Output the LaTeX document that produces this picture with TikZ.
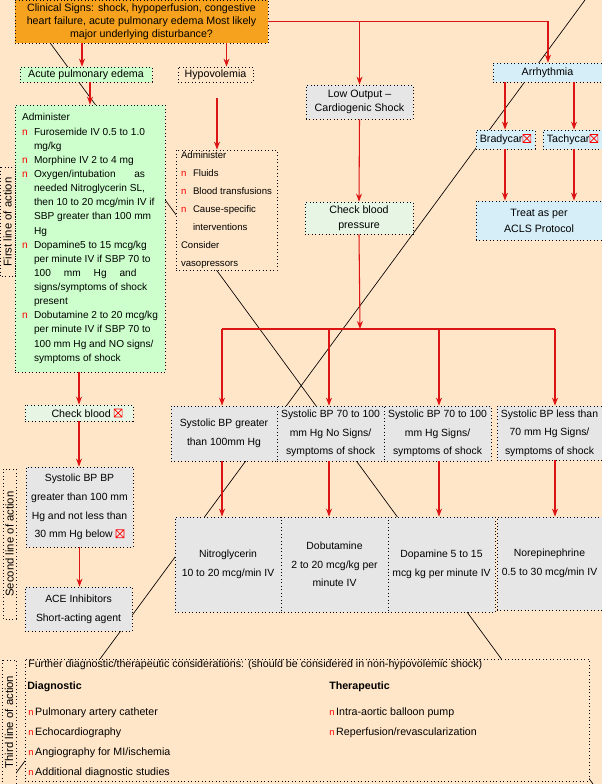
\documentclass[tikz,border=0pt]{standalone}
\usepackage{fontspec}
\setmainfont{Liberation Sans}
\usetikzlibrary{arrows.meta}
\definecolor{bgc}{RGB}{255,230,200}
\definecolor{orng}{RGB}{247,162,30}
\definecolor{lgreen}{RGB}{204,255,204}
\definecolor{pgreen}{RGB}{230,245,228}
\definecolor{lgrey}{RGB}{230,230,230}
\definecolor{lblue}{RGB}{214,238,248}
\definecolor{rline}{RGB}{220,20,20}
\newcommand\bul{\makebox[9pt][l]{\textcolor{red}{n}}}
\newcommand\ind{\hspace*{9pt}}
\newcommand\brokenicon{\tikz[baseline=0pt,x=1pt,y=1pt]{\draw[red,line width=0.5pt] (0,0) rectangle (6,6) (0,0)--(6,6) (0,6)--(6,0);}}
\newcommand\bx[7]{\node[box,#6,minimum width={(#4-#2)*0.75pt},minimum height={(#5-#3)*0.75pt}] (#1) at ({(#2+#4)/2},{(#3+#5)/2}) {#7};}
\begin{document}
\begin{tikzpicture}[x=0.75pt,y=-0.75pt,
  box/.style={draw,dotted,line width=0.6pt,inner sep=1pt,align=center,font=\fontsize{8}{10}\selectfont},
  arr/.style={draw=rline,line width=0.8pt,-{Stealth[length=6pt,width=4.5pt]}},
  rl/.style={draw=rline,line width=0.8pt},
  bl/.style={draw=black,line width=0.5pt}]
\fill[bgc] (0,0) rectangle (602,784);
\useasboundingbox (0,0) rectangle (602,784);
% stray black lines
\coordinate (la1) at (585,0); \coordinate (la2) at (8,784);
\coordinate (lb1) at (48,40); \coordinate (lb2) at (593,784);
\draw[bl] (la1) -- (la2);
\draw[bl] (lb1) -- (lb2);
% boxes
\bx{orange}{15}{0}{268}{43}{fill=orng,inner sep=0pt,font=\fontsize{8}{9.6}\selectfont}{Clinical Signs: shock, hypoperfusion, congestive\\heart failure, acute pulmonary edema Most likely\\major underlying disturbance?}
\bx{acute}{20}{67}{152}{82}{fill=lgreen}{Acute pulmonary edema}
\bx{hypo}{178}{67}{253}{82}{fill=bgc}{Hypovolemia}
\bx{green}{15}{105}{165}{372}{fill=lgreen,align=left,font=\fontsize{7.6}{10.6}\selectfont}{Administer\\
\bul Furosemide IV 0.5 to 1.0\\ \ind mg/kg\\
\bul Morphine IV 2 to 4 mg\\
\bul Oxygen/intubation \hfill as\\ \ind needed Nitroglycerin SL,\\ \ind then 10 to 20 mcg/min IV if\\ \ind SBP greater than 100 mm\\ \ind Hg\\
\bul Dopamine5 to 15 mcg/kg\\ \ind per minute IV if SBP 70 to\\ \ind 100 \quad mm \quad Hg \quad and\\ \ind signs/symptoms of shock\\ \ind present\\
\bul Dobutamine 2 to 20 mcg/kg\\ \ind per minute IV if SBP 70 to\\ \ind 100 mm Hg and NO signs/\\ \ind symptoms of shock}
\bx{hadm}{176}{150}{277}{270}{fill=bgc,align=left,font=\fontsize{7.2}{13.5}\selectfont}{Administer\\ \bul Fluids\\ \bul Blood transfusions\\ \bul Cause-specific\\ \ind interventions\\ Consider\\ vasopressors}
\node[box,rotate=90,fill=bgc,minimum width={109*0.75pt},minimum height={15*0.75pt},font=\fontsize{8.5}{10}\selectfont] (first) at (7.5,222) {First line of action};
\bx{low}{306}{85}{413}{119}{fill=lgrey,font=\fontsize{8}{11}\selectfont}{Low Output --\\Cardiogenic Shock}
\bx{cbp}{305}{202}{413}{234}{fill=pgreen,font=\fontsize{8}{11}\selectfont}{Check blood\\pressure}
\bx{arrh}{493}{63}{602}{82}{fill=lblue}{Arrhythmia}
\bx{brady}{476}{130}{535}{149}{fill=lblue}{Bradycar\brokenicon}
\bx{tachy}{543}{130}{602}{149}{fill=lblue}{Tachycar\brokenicon}
\bx{acls}{476}{201}{602}{240}{fill=lblue,font=\fontsize{8}{12}\selectfont}{Treat as per\\ACLS Protocol}
\bx{s1}{171}{406}{277}{461}{fill=lgrey,font=\fontsize{7.8}{14}\selectfont}{Systolic BP greater\\than 100mm Hg}
\bx{s2}{277}{406}{384}{461}{fill=lgrey,font=\fontsize{7.8}{14}\selectfont}{Systolic BP 70 to 100\\mm Hg No Signs/\\symptoms of shock}
\bx{s3}{384}{406}{491}{461}{fill=lgrey,font=\fontsize{7.8}{14}\selectfont}{Systolic BP 70 to 100\\mm Hg Signs/\\symptoms of shock}
\bx{s4}{497}{406}{602}{460}{fill=lgrey,font=\fontsize{7.8}{14}\selectfont}{Systolic BP less than\\70 mm Hg Signs/\\symptoms of shock}
\bx{d1}{175}{517}{281}{612}{fill=lgrey,font=\fontsize{7.8}{14}\selectfont}{Nitroglycerin\\10 to 20 mcg/min IV}
\bx{d2}{281}{517}{388}{612}{fill=lgrey,font=\fontsize{7.8}{14}\selectfont}{Dobutamine\\2 to 20 mcg/kg per\\minute IV}
\bx{d3}{388}{517}{495}{612}{fill=lgrey,font=\fontsize{7.8}{14}\selectfont}{Dopamine 5 to 15\\mcg kg per minute IV}
\bx{d4}{497}{517}{602}{610}{fill=lgrey,font=\fontsize{7.8}{14}\selectfont}{Norepinephrine\\0.5 to 30 mcg/min IV}
\bx{cb}{25}{405}{133}{421}{fill=pgreen}{\hspace*{12pt}Check blood \brokenicon}
\bx{sbp}{26}{467}{133}{547}{fill=lgrey,font=\fontsize{7.8}{14}\selectfont}{Systolic BP BP\\greater than 100 mm\\Hg and not less than\\30 mm Hg below \brokenicon}
\bx{ace}{25}{587}{132}{631}{fill=lgrey,font=\fontsize{7.8}{14}\selectfont}{ACE Inhibitors\\Short-acting agent}
\node[box,rotate=90,fill=bgc,minimum width={150*0.75pt},minimum height={13*0.75pt},font=\fontsize{8.5}{10}\selectfont] (second) at (9.5,544) {Second line of action};
\node[box,rotate=90,fill=bgc,minimum width={124*0.75pt},minimum height={14*0.75pt},font=\fontsize{8.5}{10}\selectfont] (third) at (9,722) {Third line of action};
\bx{further}{25}{659}{589}{781}{fill=bgc}{}
\begin{scope}[every node/.style={anchor=west,inner sep=0pt,font=\fontsize{8}{9}\selectfont}]
\node (fh) at (28,665) {Further diagnostic/therapeutic considerations: (should be considered in non-hypovolemic shock)};
\node[font=\fontsize{8}{9}\selectfont\bfseries] (dg) at (27,687) {Diagnostic};
\node[font=\fontsize{8}{9}\selectfont\bfseries] (th) at (329,687) {Therapeutic};
\node (g1) at (28,713) {\textcolor{red}{\scriptsize n}\,Pulmonary artery catheter};
\node (g2) at (28,733) {\textcolor{red}{\scriptsize n}\,Echocardiography};
\node (g3) at (28,753) {\textcolor{red}{\scriptsize n}\,Angiography for MI/ischemia};
\node (g4) at (28,773) {\textcolor{red}{\scriptsize n}\,Additional diagnostic studies};
\node (t1) at (329,713) {\textcolor{red}{\scriptsize n}\,Intra-aortic balloon pump};
\node (t2) at (329,733) {\textcolor{red}{\scriptsize n}\,Reperfusion/revascularization};
\end{scope}
% red connectors
\coordinate (hy0) at (217,98);
\coordinate (bus) at (360,329);
\coordinate (busl) at (222,329);
\coordinate (busr) at (555,329);
\coordinate (bt) at (505,82);
\coordinate (tt) at (574,82);
\draw[arr] (orange.south -| 82,0) -- (acute.north -| 82,0);
\draw[arr] (orange.south -| hadm.north) -- (hypo.north -| hadm.north);
\draw[arr] (acute.south -| 90,0) -- (green.north -| 90,0);
\draw[arr] (hy0) -- (hadm.north -| hy0);
\draw[arr] (orange.east) -| (arrh.north -| 548,0);
\draw[arr] (low.north |- orange.east) -- (low.north);
\draw[arr] (low.south) -- (cbp.north);
\draw[arr] (cbp.south) -- (bus);
\draw[rl] (busl) -- (busr);
\draw[arr] (bt) -- (bt |- brady.north);
\draw[arr] (tt) -- (tt |- tachy.north);
\draw[arr] (bt |- brady.south) -- (bt |- acls.north);
\draw[arr] (tt |- tachy.south) -- (tt |- acls.north);
\foreach \s/\d/\xx in {s1/d1/222, s2/d2/329, s3/d3/439, s4/d4/555}{
  \draw[arr] (\xx,329) -- (\s.north -| \xx,0);
  \draw[arr] (\s.south -| \xx,0) -- (\d.north -| \xx,0);
}
\draw[arr] (green.south -| cb.north) -- (cb.north);
\draw[arr] (cb.south) -- (sbp.north -| cb.south);
\draw[arr] (sbp.south) -- (ace.north -| sbp.south);
\end{tikzpicture}
\end{document}
